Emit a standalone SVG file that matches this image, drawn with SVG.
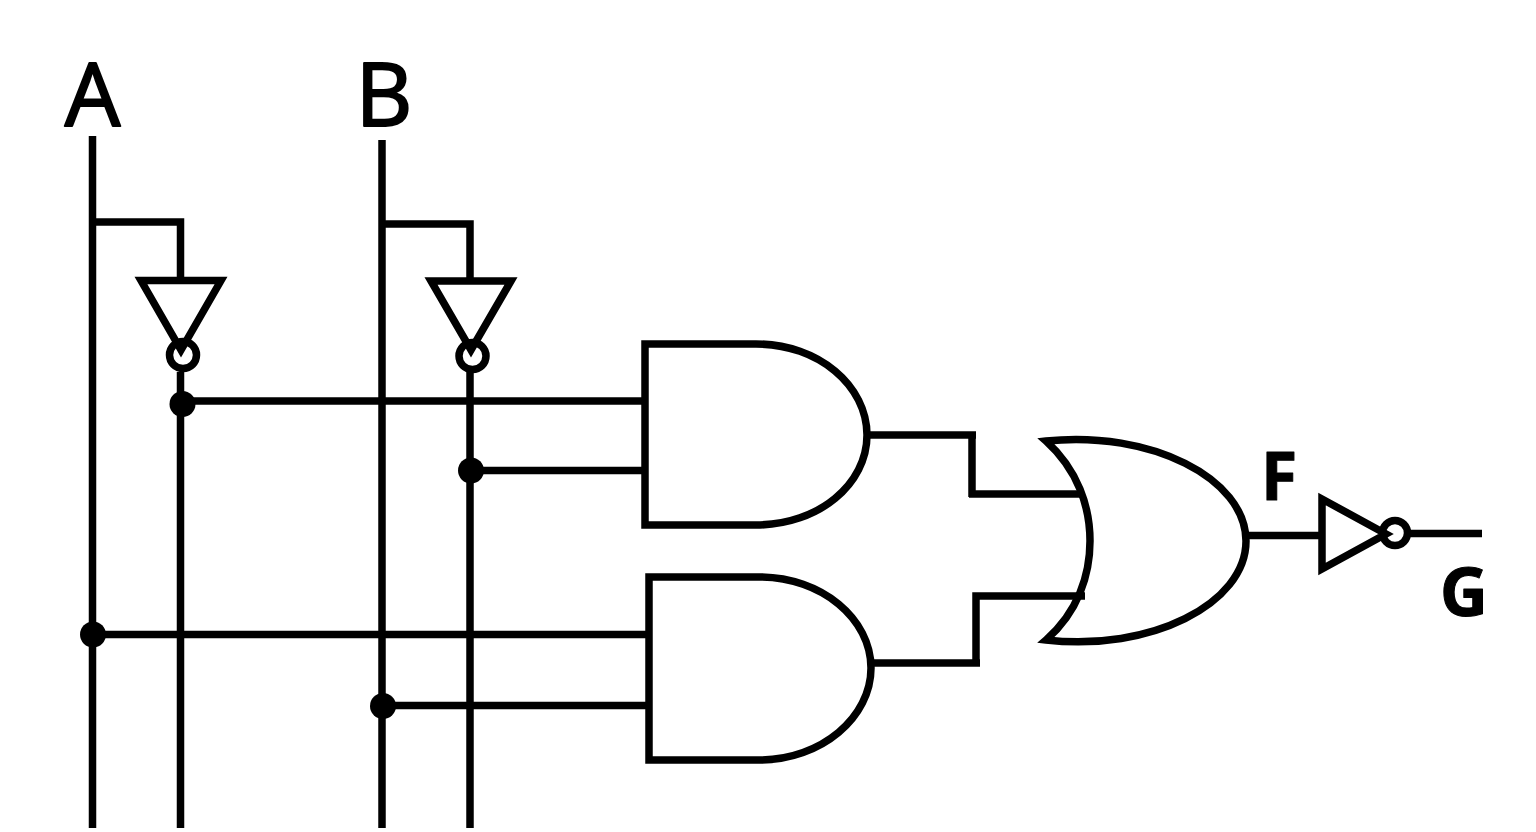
<svg xmlns="http://www.w3.org/2000/svg" width="1536" height="832" viewBox="0 0 1536 832">
<style>
.w{fill:none;stroke:#000;stroke-width:7.500}
.g{fill:none;stroke:#000;stroke-width:7.500}
.d{fill:#000}
.t{font-family:"Open Sans","Liberation Sans",sans-serif;fill:#000;text-anchor:middle;stroke:#000;stroke-linejoin:round}
.l{font-size:88px;stroke-width:2px}
.s{font-size:66px;font-weight:700;stroke-width:1px}
</style>
<rect width="1536" height="832" fill="#fff"/>
<g id="connectors" class="w">
<path d="M92.500 136V828"/>
<path d="M382 140V828"/>
<path d="M180.500 372V828"/>
<path d="M470 372V828"/>
<path d="M92 222H180.500V284"/>
<path d="M382 224H470V284"/>
<path d="M182 401H645"/>
<path d="M470 470.500H648"/>
<path d="M93 634.500H649"/>
<path d="M383 705.500H649"/>
<path d="M869 435H976"/>
<path d="M972 433V497"/>
<path d="M969 494H1082"/>
<path d="M872 663H980"/>
<path d="M976 666V596H1085"/>
<path d="M1247 535.500H1322"/>
<path d="M1405 533.500H1482"/>
</g>
<g id="label-a"><text class="t l" x="92.500" y="126">A</text></g>
<g id="label-b"><text class="t l" x="384" y="126">B</text></g>
<g id="label-f"><text class="t s" x="1279" y="500">F</text></g>
<g id="label-g"><text class="t s" x="1464" y="616">G</text></g>
<g id="not-a">
<path class="g" d="M141 280.500H221L181 350Z"/>
<circle class="w" cx="183" cy="355" r="13.500"/>
</g>
<g id="not-b">
<path class="g" d="M431 281H511L471 350Z"/>
<circle class="w" cx="472.500" cy="356" r="13.500"/>
</g>
<g id="junction-1"><circle class="d" cx="182.500" cy="404" r="13"/></g>
<g id="junction-2"><circle class="d" cx="471" cy="470.500" r="13"/></g>
<g id="junction-3"><circle class="d" cx="93" cy="634.500" r="13"/></g>
<g id="junction-4"><circle class="d" cx="383" cy="706" r="13"/></g>
<g id="and-1"><path class="g" d="M645 344H756C819 344 867 386 867 435C867 484 819 525 756 525H645Z"/></g>
<g id="and-2"><path class="g" d="M649 577H759C822 577 871 619 871 668C871 717 822 760 759 760H649Z"/></g>
<g id="or-1"><path class="g" d="M1046 441C1150 430 1246 478 1246 541C1246 604 1150 652 1046 640C1078 612 1090 575 1090 541C1090 507 1078 470 1046 441Z"/></g>
<g id="not-f">
<path class="g" d="M1322 499V569L1386 534Z"/>
<circle class="w" cx="1395" cy="533" r="12.500"/>
</g>
</svg>
